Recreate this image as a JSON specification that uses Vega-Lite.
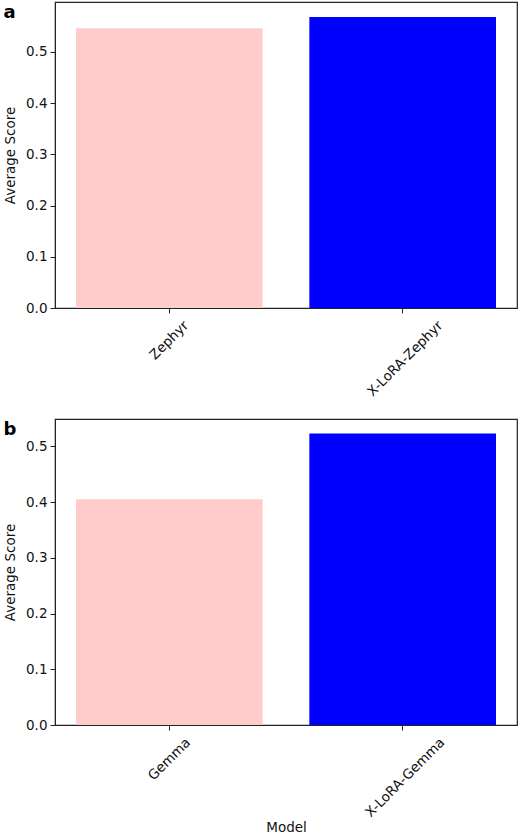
{
  "$schema": "https://vega.github.io/schema/vega-lite/v6.json",
  "padding": {"left": 2, "top": 1, "right": 2, "bottom": 0},
  "background": "white",
  "spacing": 19,
  "config": {
    "font": "DejaVu Sans",
    "view": {"stroke": "#222", "strokeWidth": 1.2},
    "axis": {
      "grid": false,
      "domainColor": "#222",
      "tickColor": "#222",
      "labelColor": "#111",
      "titleColor": "#111",
      "labelFont": "DejaVu Sans",
      "titleFont": "DejaVu Sans",
      "labelFontSize": 13.5,
      "titleFontSize": 13.5,
      "titleFontWeight": "normal",
      "tickSize": 5,
      "labelPadding": 3
    },
    "title": {"font": "DejaVu Sans", "fontSize": 18, "fontWeight": "bold", "color": "#000", "anchor": "start", "frame": "bounds"}
  },
  "datasets": {
    "a": [
      {"Model": "Zephyr", "score": 0.546},
      {"Model": "X-LoRA-Zephyr", "score": 0.568}
    ],
    "b": [
      {"Model": "Gemma", "score": 0.405},
      {"Model": "X-LoRA-Gemma", "score": 0.523}
    ]
  },
  "vconcat": [
    {
      "title": {"text": "a", "offset": -20},
      "width": 462,
      "height": 306,
      "data": {"name": "a"},
      "mark": {"type": "bar"},
      "encoding": {
        "x": {
          "field": "Model", "type": "nominal", "sort": null,
          "scale": {"paddingInner": 0.2, "paddingOuter": 0.09},
          "axis": {
            "title": null, "labelAngle": -45, "labelAlign": "right", "labelBaseline": "top", "labelPadding": 5,
            "labelOffset": {"condition": {"test": "datum.value == 'Zephyr'", "value": 12}, "value": 33}
          }
        },
        "y": {
          "field": "score", "type": "quantitative",
          "scale": {"domain": [0, 0.5975], "nice": false},
          "axis": {"title": "Average Score", "values": [0, 0.1, 0.2, 0.3, 0.4, 0.5], "format": ".1f", "titlePadding": 8}
        },
        "color": {
          "field": "Model", "type": "nominal", "legend": null,
          "scale": {"domain": ["Zephyr", "X-LoRA-Zephyr"], "range": ["#ffcccb", "#0000ff"]}
        }
      }
    },
    {
      "title": {"text": "b", "offset": -20},
      "width": 462,
      "height": 306,
      "data": {"name": "b"},
      "mark": {"type": "bar"},
      "encoding": {
        "x": {
          "field": "Model", "type": "nominal", "sort": null,
          "scale": {"paddingInner": 0.2, "paddingOuter": 0.09},
          "axis": {
            "title": "Model", "labelAngle": -45, "labelAlign": "right", "labelBaseline": "top", "labelPadding": 5, "titlePadding": 1,
            "labelOffset": {"condition": {"test": "datum.value == 'Gemma'", "value": 14}, "value": 35}
          }
        },
        "y": {
          "field": "score", "type": "quantitative",
          "scale": {"domain": [0, 0.549], "nice": false},
          "axis": {"title": "Average Score", "values": [0, 0.1, 0.2, 0.3, 0.4, 0.5], "format": ".1f", "titlePadding": 8}
        },
        "color": {
          "field": "Model", "type": "nominal", "legend": null,
          "scale": {"domain": ["Gemma", "X-LoRA-Gemma"], "range": ["#ffcccb", "#0000ff"]}
        }
      }
    }
  ]
}
